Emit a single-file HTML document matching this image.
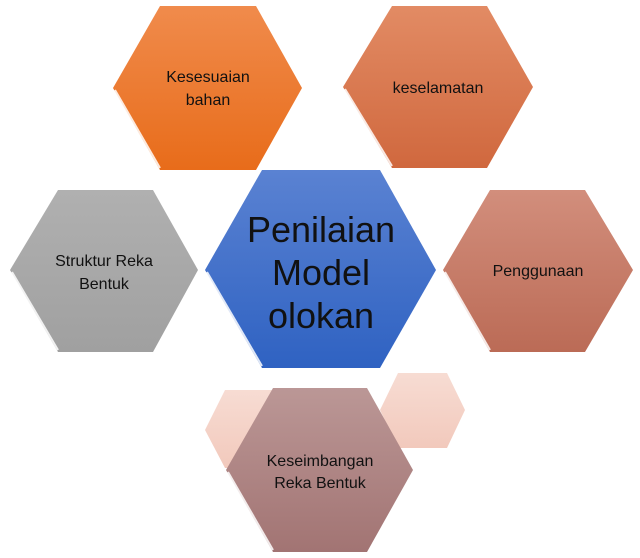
<!DOCTYPE html>
<html><head><meta charset="utf-8"><style>
html,body{margin:0;padding:0;background:#fff;width:640px;height:558px;overflow:hidden}
svg{display:block}
text{font-family:"Liberation Sans",sans-serif;fill:#111;text-anchor:middle}
</style></head><body>
<svg width="640" height="558" viewBox="0 0 640 558" xmlns="http://www.w3.org/2000/svg">
<defs>
<linearGradient id="gO" x1="0" y1="0" x2="0" y2="1"><stop offset="0" stop-color="#f08b4c"/><stop offset="1" stop-color="#e86c1a"/></linearGradient>
<linearGradient id="gK" x1="0" y1="0" x2="0" y2="1"><stop offset="0" stop-color="#e28b64"/><stop offset="1" stop-color="#d0683e"/></linearGradient>
<linearGradient id="gG" x1="0" y1="0" x2="0" y2="1"><stop offset="0" stop-color="#b0b0b0"/><stop offset="1" stop-color="#a0a0a0"/></linearGradient>
<linearGradient id="gB" x1="0" y1="0" x2="0" y2="1"><stop offset="0" stop-color="#5a82d2"/><stop offset="1" stop-color="#2f62c2"/></linearGradient>
<linearGradient id="gP" x1="0" y1="0" x2="0" y2="1"><stop offset="0" stop-color="#d28e7c"/><stop offset="1" stop-color="#bb6b56"/></linearGradient>
<linearGradient id="gM" x1="0" y1="0" x2="0" y2="1"><stop offset="0" stop-color="#bb9796"/><stop offset="1" stop-color="#a27473"/></linearGradient>
<linearGradient id="gF" x1="0" y1="0" x2="0" y2="1"><stop offset="0" stop-color="#f7dcd3"/><stop offset="1" stop-color="#f2c9bc"/></linearGradient>
</defs>
<polygon points="205,430 225,390 300,390 320,430 300,468 225,468" fill="url(#gF)"/>
<polygon points="380,410 398,373 447,373 465,410 447,448 398,448" fill="url(#gF)"/>
<polygon points="113,88 160,6 256,6 302,88 256,170 160,170" fill="url(#gO)"/>
<polygon points="343,87 392,6 487,6 533,87 487,168 392,168" fill="url(#gK)"/>
<polygon points="10,270 58,190 153,190 198,270 153,352 58,352" fill="url(#gG)"/>
<polygon points="205,270 262,170 380,170 436,270 380,368 262,368" fill="url(#gB)"/>
<polygon points="443,270 490,190 585,190 633,270 585,352 490,352" fill="url(#gP)"/>
<polygon points="226,470 273,388 367,388 413,470 367,552 273,552" fill="url(#gM)"/>
<g stroke="#fff" stroke-width="2" fill="none" opacity="0.85">
<line x1="115" y1="90" x2="160" y2="168"/>
<line x1="345" y1="89" x2="392" y2="166"/>
<line x1="12" y1="272" x2="58" y2="350"/>
<line x1="207" y1="272" x2="262" y2="366"/>
<line x1="445" y1="272" x2="490" y2="350"/>
<line x1="228" y1="472" x2="273" y2="550"/>
</g>
<text x="208" y="82" font-size="16">Kesesuaian</text>
<text x="208" y="105" font-size="16">bahan</text>
<text x="438" y="93" font-size="16">keselamatan</text>
<text x="104" y="266" font-size="16">Struktur Reka</text>
<text x="104" y="289" font-size="16">Bentuk</text>
<text x="321" y="242" font-size="36">Penilaian</text>
<text x="321" y="285" font-size="36">Model</text>
<text x="321" y="328" font-size="36">olokan</text>
<text x="538" y="276" font-size="16">Penggunaan</text>
<text x="320" y="466" font-size="16">Keseimbangan</text>
<text x="320" y="488" font-size="16">Reka Bentuk</text>
</svg>
</body></html>
